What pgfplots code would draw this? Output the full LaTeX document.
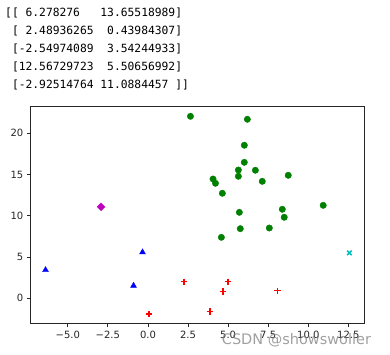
\documentclass[border=0pt]{standalone}
\usepackage{fontspec}
\setmainfont{DejaVu Sans}
\newfontfamily\monofont{DejaVu Sans Mono}
\usepackage{pgfplots}
\pgfplotsset{compat=1.18}
\definecolor{mplg}{rgb}{0,0.5,0}
\definecolor{mplb}{rgb}{0,0,1}
\definecolor{mplr}{rgb}{1,0,0}
\definecolor{mplm}{rgb}{0.75,0,0.75}
\definecolor{mplc}{rgb}{0,0.75,0.75}
\begin{document}
\begin{tikzpicture}[x=1pt,y=1pt]
\path[use as bounding box] (0,0) rectangle (390,354);
\begin{scope}[every node/.style={anchor=base west, inner sep=0pt, font=\monofont\fontsize{11.3}{13}\selectfont}]
\frenchspacing
\node at (5,337.3) {[[\ 6.278276\ \ \ 13.65518989]};
\node at (5,319.3) {\ [\ 2.48936265\ \ 0.43984307]};
\node at (5,301.3) {\ [-2.54974089\ \ 3.54244933]};
\node at (5,283.3) {\ [12.56729723\ \ 5.50656992]};
\node at (5,265.3) {\ [-2.92514764\ 11.0884457\ ]]};
\end{scope}
\begin{axis}[
  at={(30.3pt,30.3pt)}, anchor=south west,
  scale only axis, width=334.4pt, height=217.7pt,
  xmin=-7.34, xmax=13.52, ymin=-3.08, ymax=23.31,
  axis line style={line width=0.8pt, black!85},
  tick align=outside, major tick length=3.5pt,
  tick style={line width=0.8pt, black!85},
  xtick pos=lower, ytick pos=left,
  xtick={-5,-2.5,0,2.5,5,7.5,10,12.5},
  xticklabels={−5.0,−2.5,0.0,2.5,5.0,7.5,10.0,12.5},
  ytick={0,5,10,15,20},
  yticklabels={0,5,10,15,20},
  tick label style={font=\fontsize{10}{12}\selectfont, text=black!85},
  clip=false,
]
\addplot[only marks, color=mplg, mark=*, mark size=3.2pt, mark options={fill=mplg, draw=mplg}] coordinates {
(2.65,22.06) (6.20,21.70) (6.01,18.55) (6.01,16.48) (5.64,15.55) (6.70,15.52)
(5.64,14.79) (8.75,14.91) (4.06,14.46) (4.21,13.94) (7.13,14.18) (4.64,12.73)
(10.93,11.27) (8.38,10.79) (5.70,10.42) (8.50,9.82) (5.76,8.44) (7.57,8.52) (4.58,7.39)
};
\addplot[only marks, color=mplr, mark=+, mark size=3.2pt, mark options={draw=mplr, line width=1.5pt}] coordinates {
(0.05,-1.90) (2.24,2.01) (3.86,-1.62) (4.67,0.80) (5.00,2.01) (8.09,0.92)
};
\addplot[only marks, color=mplb, mark=triangle*, mark size=3.4pt, mark options={fill=mplb, draw=mplb}] coordinates {
(-6.39,3.43) (-0.34,5.58) (-0.90,1.53)
};
\addplot[only marks, color=mplm, mark=square*, mark size=2.8pt, mark options={rotate=45, fill=mplm, draw=mplm}] coordinates {
(-2.925,11.088)
};
\addplot[only marks, color=mplc, mark=x, mark size=3.2pt, mark options={draw=mplc, line width=1.5pt}] coordinates {
(12.567,5.507)
};
\end{axis}
\node[anchor=base west, inner sep=0pt, font=\fontsize{14.5}{16}\selectfont, text=gray, opacity=0.75] at (221.7,10) {CSDN @showswoller};
\end{tikzpicture}
\end{document}
